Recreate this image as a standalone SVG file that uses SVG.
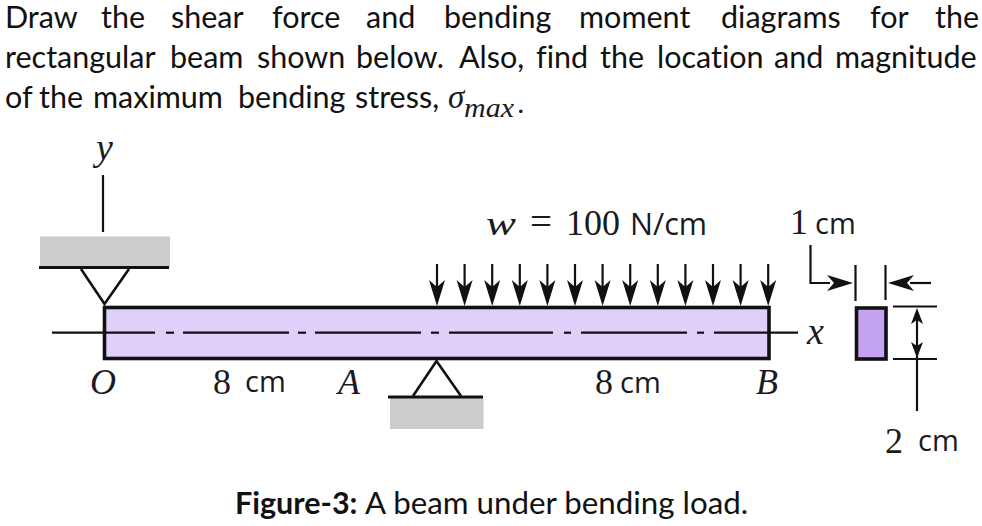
<svg xmlns="http://www.w3.org/2000/svg" width="982" height="526" viewBox="0 0 982 526">
<style>
.t{font-family:"Lato","Liberation Sans",sans-serif;font-size:30.5px;fill:#111;font-variant-ligatures:none}
.s{font-family:"Liberation Serif",serif;fill:#1a1a22}
.i{font-style:italic}
.u{font-family:"Open Sans","Liberation Sans",sans-serif;font-size:29px;fill:#1a1a22}
.l{stroke:#111;stroke-width:2.2;fill:none}
.b{stroke:#111;stroke-width:3.2;fill:none}
.tr{stroke:#111;stroke-width:2.6;fill:none}
.g{fill:#cdcccb}
</style>
<defs>
<path id="hd" d="M0 0L-8-26L0-19L8-26Z" fill="#111"/>
<g id="ar"><line x1="0" y1="-42" x2="0" y2="-15" class="l"/><use href="#hd"/></g>
</defs>
<rect width="982" height="526" fill="#fff"/>
<g id="problem-text" class="t">
<text y="27.5"><tspan x="5">Draw</tspan><tspan x="101">the</tspan><tspan x="171">shear</tspan><tspan x="272">force</tspan><tspan x="366">and</tspan><tspan x="444">bending</tspan><tspan x="579">moment</tspan><tspan x="721">diagrams</tspan><tspan x="870">for</tspan><tspan x="935">the</tspan></text>
<text y="67.5"><tspan x="5">rectangular</tspan><tspan x="170">beam</tspan><tspan x="257">shown</tspan><tspan x="356">below.</tspan><tspan x="459">Also,</tspan><tspan x="536">find</tspan><tspan x="600">the</tspan><tspan x="657">location</tspan><tspan x="774">and</tspan><tspan x="835">magnitude</tspan></text>
<text y="107.5"><tspan x="5">of</tspan><tspan x="39">the</tspan><tspan x="93">maximum</tspan><tspan x="238">bending</tspan><tspan x="355">stress,</tspan></text>
<text x="448" y="108" class="s i" font-size="33">σ</text>
<text x="464" y="117" class="s i" font-size="28" textLength="50" lengthAdjust="spacingAndGlyphs">max</text>
<text x="517" y="113" class="s" font-size="30">.</text>
</g>
<g id="connectors">
<line x1="103" y1="175" x2="103" y2="232" class="l"/>
<g id="load">
<use href="#ar" x="437" y="306"/><use href="#ar" x="464.6" y="306"/><use href="#ar" x="492.2" y="306"/><use href="#ar" x="519.8" y="306"/><use href="#ar" x="547.4" y="306"/><use href="#ar" x="575" y="306"/><use href="#ar" x="602.6" y="306"/><use href="#ar" x="630.2" y="306"/><use href="#ar" x="657.8" y="306"/><use href="#ar" x="685.4" y="306"/><use href="#ar" x="713" y="306"/><use href="#ar" x="740.6" y="306"/><use href="#ar" x="768.2" y="306"/>
</g>
<g id="dim-1cm">
<polyline points="810.5,245 810.5,283 830,283" class="l"/>
<path d="M853 283L827 275L834 283L827 291Z" fill="#111"/>
<line x1="855.5" y1="265" x2="855.5" y2="301" class="l"/>
<line x1="885.5" y1="265" x2="885.5" y2="300" class="l"/>
<line x1="931" y1="283" x2="910" y2="283" class="l"/>
<path d="M888 283L914 275L907 283L914 291Z" fill="#111"/>
</g>
<g id="dim-2cm">
<line x1="893" y1="306.5" x2="937" y2="306.5" class="l"/>
<line x1="893" y1="359" x2="937" y2="359" class="l"/>
<line x1="917" y1="318" x2="917" y2="411" class="l"/>
<path d="M917 308L911 324L917 320L923 324Z" fill="#111"/>
<path d="M917 358L911 342L917 346L923 342Z" fill="#111"/>
</g>
</g>
<g id="support-top">
<rect x="40" y="236.5" width="130" height="31" class="g"/>
<line x1="39" y1="267.5" x2="169" y2="267.5" class="b"/>
<polyline points="81,269 104.5,304 129,269" class="tr"/>
</g>
<g id="beam">
<rect x="104.5" y="307.5" width="664.5" height="51" fill="#dfd0fa"/>
<line x1="52" y1="332.7" x2="155" y2="332.7" class="l"/>
<line x1="166" y1="332.7" x2="174" y2="332.7" class="l"/><line x1="183" y1="332.7" x2="289" y2="332.7" class="l"/>
<line x1="298" y1="332.7" x2="306" y2="332.7" class="l"/><line x1="315" y1="332.7" x2="421" y2="332.7" class="l"/>
<line x1="431" y1="332.7" x2="439" y2="332.7" class="l"/><line x1="449" y1="332.7" x2="553" y2="332.7" class="l"/>
<line x1="564" y1="332.7" x2="571" y2="332.7" class="l"/><line x1="581" y1="332.7" x2="687" y2="332.7" class="l"/>
<line x1="697" y1="332.7" x2="704" y2="332.7" class="l"/><line x1="714" y1="332.7" x2="798" y2="332.7" class="l"/>
<rect x="104.5" y="307.5" width="664.5" height="51" fill="none" stroke="#111" stroke-width="3.6"/>
</g>
<g id="support-bottom">
<rect x="390" y="398" width="93.5" height="31" class="g"/>
<line x1="388" y1="397" x2="483" y2="397" class="b"/>
<polyline points="413,396 436.5,361 461,396" class="tr"/>
</g>
<g id="section">
<rect x="856.5" y="308" width="29.5" height="51" fill="#c4a4f0" stroke="#111" stroke-width="3.6"/>
</g>
<g id="labels">
<text x="96" y="160" class="s i" font-size="38">y</text>
<text x="90" y="394" class="s i" font-size="36">O</text>
<text x="338" y="394" class="s i" font-size="36">A</text>
<text x="756" y="394" class="s i" font-size="36">B</text>
<text x="807" y="344" class="s i" font-size="38">x</text>
<text x="486" y="235" class="s i" font-size="34" textLength="30" lengthAdjust="spacingAndGlyphs">w</text>
<text x="530" y="235" class="s" font-size="39">=</text>
<text x="566" y="235" class="s" font-size="36">100</text>
<text x="630" y="235" class="u" style="font-size:30.5px">N/cm</text>
<text x="790" y="234" class="s" font-size="36">1</text>
<text x="815" y="234" class="u">cm</text>
<text x="213" y="394" class="s" font-size="36">8</text>
<text x="245" y="392" class="u">cm</text>
<text x="595" y="394" class="s" font-size="36">8</text>
<text x="620" y="393" class="u">cm</text>
<text x="885" y="453" class="s" font-size="36">2</text>
<text x="918" y="451" class="u">cm</text>
</g>
<g id="caption" class="t">
<text x="235" y="514" font-weight="700">Figure-3:</text>
<text x="365" y="514" style="font-size:31.3px">A beam under bending load.</text>
</g>
</svg>
